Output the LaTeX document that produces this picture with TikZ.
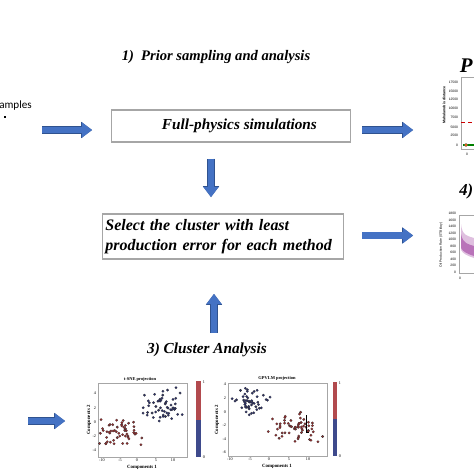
\documentclass[tikz,border=0pt]{standalone}
\usepackage{fontspec}
\setmainfont{Liberation Serif}
\setsansfont{Liberation Sans}
\newfontfamily\calib{Carlito}
\usetikzlibrary{arrows.meta,calc}
\definecolor{arrblue}{HTML}{4472C4}
\definecolor{arredge}{HTML}{2F528F}
\definecolor{boxgray}{HTML}{A6A6A6}
\definecolor{ptblue}{HTML}{2A2F6E}
\definecolor{ptred}{HTML}{9E2A2B}
\definecolor{cbred}{HTML}{B24A4E}
\definecolor{cbblue}{HTML}{3E4A8C}

\begin{document}
\begin{tikzpicture}[x={(0.0253cm,0)},y={(0,-0.0253cm)},
 head/.style={font=\fontsize{11}{13}\selectfont\bfseries\itshape},
 box/.style={draw=boxgray,line width=0.9pt,inner sep=2pt,font=\fontsize{11}{13.5}\selectfont\bfseries\itshape},
 blockarrow/.style={line width=5pt,draw=arrblue,-{Triangle[length=7.2pt,width=11pt,line width=0pt]},
   preaction={draw=arredge,line width=5.6pt,-{Triangle[length=7.8pt,width=11.8pt,line width=0pt]}}},
 tiny/.style={font=\fontsize{3}{3.5}\selectfont,inner sep=0.5pt},
 tinys/.style={font=\sffamily\fontsize{2.4}{3}\selectfont,inner sep=0.5pt},
 frame/.style={draw=gray!70,line width=0.3pt},
 dot/.style={draw=black!80,line width=0.15pt}]
\useasboundingbox (0,0) rectangle (474,474);
\clip (0,0) rectangle (474,474);

% 1) prior sampling
\node[head,font=\fontsize{10.5}{12}\selectfont\bfseries\itshape] (t1) at (216,57) {1)\ \ Prior sampling and analysis};
\node[font=\calib\fontsize{8}{9}\selectfont,anchor=east,inner sep=0] (smp) at (32,106) {amples};
\node[fill,inner sep=0,minimum size=1.6pt] (blt) at (5,117) {};
\node[box,minimum width=6.03cm,minimum height=0.81cm] (full) at (231,126) {\hspace*{12pt}Full-physics simulations};

% select box
\node[box,text width=5.95cm,align=left,minimum height=1.14cm,font=\fontsize{11.5}{14}\selectfont\bfseries\itshape] (sel) at (223,236.5)
 {Select the cluster with least\\production error for each method};

% block arrows
\coordinate (a1s) at (42,130); \coordinate (a1e) at (92,130);
\coordinate (a2s) at (362,130); \coordinate (a2e) at (413,130);
\coordinate (a3e) at (211,197);
\coordinate (a4s) at (362,235.5); \coordinate (a4e) at (413,235.5);
\coordinate (a5s) at (214,333); \coordinate (a5e) at (214,294);
\coordinate (a6s) at (28,421); \coordinate (a6e) at (65,421);
\draw[blockarrow] (a1s) -- (a1e);
\draw[blockarrow] (a2s) -- (a2e);
\draw[blockarrow] (full.south -| a3e) ++(0,16) -- (a3e);
\draw[blockarrow] (a4s) -- (a4e);
\draw[blockarrow] (a5s) -- (a5e);
\draw[blockarrow] (a6s) -- (a6e);

% 3) cluster analysis
\node[head] (t3) at (207,350) {3) Cluster Analysis};

% right side: P and 4)
\node[head,font=\fontsize{15}{16}\selectfont\bfseries\itshape,anchor=west] (tp) at (455,66) {P};
\node[head,font=\fontsize{12}{13}\selectfont\bfseries\itshape,anchor=west,inner sep=0pt] (t4) at (459,191) {4)};

% plot P (distance)
\draw[frame] (474,77) -- (461,77) -- (461,149) -- (474,149);
\foreach \v/\yy in {17500/82,15000/91,12500/99,10000/108,7500/117,5000/127,2500/135,0/145}
  \node[tinys,anchor=east] at (459,\yy) {\v};
\node[tinys] at (467,154) {0};
\node[tinys,rotate=90,font=\sffamily\bfseries\fontsize{2.6}{3}\selectfont] (ylp) at (444,105) {Mahalanobis distance};
\draw[red!80!black,densely dashed,line width=0.4pt] (461,122) -- (474,122);
\draw[green!50!black,line width=0.8pt] (463,145) -- (474,145);
\draw[fill=orange!80!red,draw=black!60,line width=0.2pt] (466,145) circle (1.2pt);

% plot 4) (rate)
\draw[frame] (474,215) -- (459,215) -- (459,273) -- (474,273);
\foreach \v [count=\k from 0] in {0,200,400,600,800,1000,1200,1400,1600,1800}
  \node[tinys,anchor=east] at (457,272-6.5*\k) {\v};
\node[tinys] at (460,278) {0};
\node[tinys,rotate=90,font=\sffamily\fontsize{2.4}{3}\selectfont] (ylr) at (441,245) {Oil Production Rate (STB/day)};
\fill[violet!25] (461,224) .. controls (462,236) and (468,236) .. (474,238) -- (474,258) .. controls (468,256) and (463,254) .. (461,250) -- cycle;
\fill[violet!55] (461,234) .. controls (463,244) and (468,244) .. (474,246) -- (474,256) .. controls (468,254) and (463,252) .. (461,248) -- cycle;

% t-SNE scatter
\draw[frame] (98,383) rectangle (187,457);
\node[tiny,font=\bfseries\fontsize{3.2}{4}\selectfont] (tsn) at (140,379) {t-SNE projection};
\node[tiny,font=\bfseries\fontsize{3.5}{4}\selectfont] (tsx) at (142,467) {Components 1};
\node[tiny,rotate=90,font=\bfseries\fontsize{3.5}{4}\selectfont] (tsy) at (89,420) {Components 2};
\foreach \v/\yy in {4/393,2/408,0/422,-2/436,-4/450}
  \node[tiny,anchor=east] at (97,\yy) {\v};
\foreach \v/\xx in {-10/102,-5/120,0/137,5/156,10/173}
  \node[tiny] at (\xx,460) {\v};
\pgfmathsetseed{11}
\foreach \i in {1,...,55}{
  \pgfmathsetmacro\px{162+13*(rand+rand)}
  \pgfmathsetmacro\py{404+10*(rand+rand)}
  \filldraw[dot,fill=ptblue] (\px,\py) circle (0.9pt);}
\foreach \i in {1,...,55}{
  \pgfmathsetmacro\px{120+12*(rand+rand)}
  \pgfmathsetmacro\py{433+9*(rand+rand)}
  \filldraw[dot,fill=ptred] (\px,\py) circle (0.9pt);}
\fill[cbred] (196,381) rectangle (201,420);
\fill[cbblue] (196,420) rectangle (201,457);
\node[tiny,anchor=west] at (202,382) {1};
\node[tiny,anchor=west] at (202,457) {0};

% GPVLM scatter
\draw[frame] (228,383) rectangle (327,456);
\node[tiny,font=\bfseries\fontsize{3.2}{4}\selectfont] (gpt) at (277,378) {GPVLM projection};
\node[tiny,font=\bfseries\fontsize{3.5}{4}\selectfont] (gpx) at (277,466) {Components 1};
\node[tiny,rotate=90,font=\bfseries\fontsize{3.5}{4}\selectfont] (gpy) at (217,420) {Components 2};
\foreach \v/\yy in {4/384,2/398,0/412,-2/425,-4/439,-6/452}
  \node[tiny,anchor=east] at (227,\yy) {\v};
\foreach \v/\xx in {-10/230,-5/250,0/269,5/289,10/308}
  \node[tiny] at (\xx,459) {\v};
\foreach \i in {1,...,50}{
  \pgfmathsetmacro\px{250+11*(rand+rand)}
  \pgfmathsetmacro\py{402+8*(rand+rand)}
  \filldraw[dot,fill=ptblue] (\px,\py) circle (0.9pt);}
\foreach \i in {1,...,60}{
  \pgfmathsetmacro\px{296+15*(rand+rand)}
  \pgfmathsetmacro\py{430+10*(rand+rand)}
  \filldraw[dot,fill=ptred] (\px,\py) circle (0.9pt);}
\draw[black,line width=0.4pt] (306,415) -- (306,432) -- (309,432);
\fill[cbred] (333,382) rectangle (337,419);
\fill[cbblue] (333,419) rectangle (337,456);
\node[tiny,anchor=west] at (338,383) {1};
\node[tiny,anchor=west] at (338,456) {0};
\end{tikzpicture}
\end{document}
